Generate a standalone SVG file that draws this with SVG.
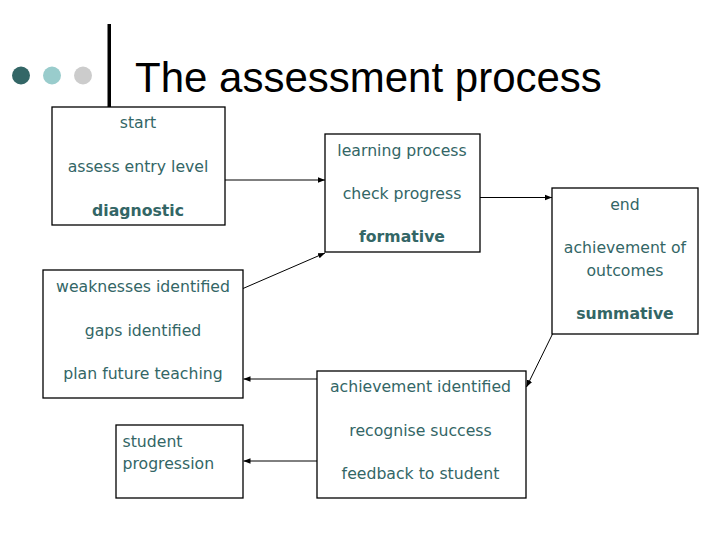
<svg xmlns="http://www.w3.org/2000/svg" width="728" height="546" viewBox="0 0 728 546">
<defs>
<style>
.box{fill:#ffffff;stroke:#000000;stroke-width:1.3}
.t{font-family:"DejaVu Sans",Verdana,sans-serif;font-size:15.7px;fill:#336666;text-anchor:middle}
.b{font-weight:bold}
.l{text-anchor:start}
.c{stroke:#000000;stroke-width:1;fill:none;marker-end:url(#ah)}
</style>
<marker id="ah" viewBox="0 0 10 10" refX="10" refY="5" markerWidth="7" markerHeight="7" markerUnits="userSpaceOnUse" orient="auto">
<path d="M0,1 L10,5 L0,9 Z" fill="#000000"/>
</marker>
</defs>
<rect width="728" height="546" fill="#ffffff"/>
<g id="title">
<circle cx="21" cy="75.5" r="9" fill="#336666"/>
<circle cx="52" cy="75.5" r="9" fill="#99cccc"/>
<circle cx="83" cy="75.5" r="9" fill="#cccccc"/>
<rect x="107.5" y="24" width="3.5" height="83" fill="#000000"/>
<text x="135" y="92" font-family="Liberation Sans,Arial,sans-serif" font-size="42" fill="#000000">The assessment process</text>
</g>
<g id="connectors">
<line class="c" x1="225" y1="180" x2="325" y2="180"/>
<line class="c" x1="480" y1="197.5" x2="552" y2="197.5"/>
<line class="c" x1="243" y1="288.5" x2="325" y2="253"/>
<line class="c" x1="552.5" y1="334" x2="526.5" y2="387"/>
<line class="c" x1="317" y1="379" x2="243.5" y2="379"/>
<line class="c" x1="317" y1="461" x2="243.5" y2="461"/>
</g>
<g id="start">
<rect class="box" x="52" y="107" width="173" height="118"/>
<text class="t" x="138" y="128">start</text>
<text class="t" x="138" y="172">assess entry level</text>
<text class="t b" x="138" y="216">diagnostic</text>
</g>
<g id="learning">
<rect class="box" x="325" y="134" width="155" height="118"/>
<text class="t" x="402" y="156">learning process</text>
<text class="t" x="402" y="199">check progress</text>
<text class="t b" x="402" y="242">formative</text>
</g>
<g id="end">
<rect class="box" x="552" y="188" width="146" height="146"/>
<text class="t" x="625" y="210">end</text>
<text class="t" x="625" y="253">achievement of</text>
<text class="t" x="625" y="276">outcomes</text>
<text class="t b" x="625" y="319">summative</text>
</g>
<g id="weaknesses">
<rect class="box" x="43" y="270" width="200" height="128"/>
<text class="t" x="143" y="292">weaknesses identified</text>
<text class="t" x="143" y="336">gaps identified</text>
<text class="t" x="143" y="379">plan future teaching</text>
</g>
<g id="achievement">
<rect class="box" x="317" y="371" width="209" height="127"/>
<text class="t" x="420.5" y="392">achievement identified</text>
<text class="t" x="420.5" y="436">recognise success</text>
<text class="t" x="420.5" y="479">feedback to student</text>
</g>
<g id="student">
<rect class="box" x="116" y="425" width="127" height="73"/>
<text class="t l" x="122.5" y="447">student</text>
<text class="t l" x="122.5" y="469">progression</text>
</g>
</svg>
